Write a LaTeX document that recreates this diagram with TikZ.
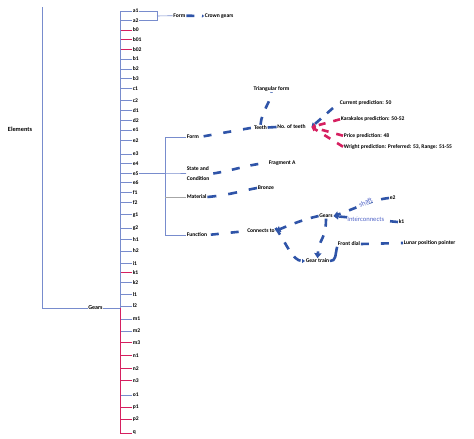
\documentclass[tikz,border=0pt]{standalone}
\usepackage{fontspec}
\setmainfont{Carlito}
\usetikzlibrary{arrows.meta,positioning}
\definecolor{lineblue}{RGB}{120,140,205}
\definecolor{linkblue}{RGB}{47,84,168}
\definecolor{linkpink}{RGB}{214,32,96}
\definecolor{textblue}{RGB}{80,100,200}
\newcommand{\labsize}{\fontsize{5.6}{9.6}\selectfont}
\newcommand{\dashw}{2.6pt}

\begin{document}
\begin{tikzpicture}[x=1pt,y=-1pt]
        %\draw[help lines] (0,0) grid (474,439);
        \tikzset{lab/.style = {font=\labsize\bfseries, inner sep=0.6pt},
                 trunk/.style = {draw=lineblue, line width=0.6pt},
                 link/.style = {draw=linkblue, line width=\dashw, dash pattern=on 8pt off 9pt},
                 pinklink/.style = {link, draw=linkpink},
                 edgelab/.style = {font=\fontsize{6.6}{7}\selectfont, text=textblue, fill=white, inner sep=0.5pt}}
        \useasboundingbox (0,0) rectangle (474,439);

        % root and the long list
        \node[lab, font=\fontsize{6.3}{7}\selectfont\bfseries] (elements) at (20,129) {Elements};
        \node[lab, font=\fontsize{6}{7}\selectfont\bfseries] (gears) at (95.5,308) {Gears};
        \coordinate (top) at (42,7);
        \coordinate (bend) at (42,308);
        \coordinate (jg) at (120,308);
        \draw[trunk] (top) -- (bend) -- (gears.west);
        \draw[trunk] (gears.east) -- (jg);
        \foreach \n/\y/\c in {a1/11/lineblue, a2/20.7/lineblue, b0/30/linkpink, b01/39.3/linkpink,
                b02/49.3/linkpink, b1/59/lineblue, b2/69/lineblue, b3/78.7/lineblue, c1/88.3/lineblue,
                c2/100.7/lineblue, d1/110.3/lineblue, d2/120.7/lineblue, e1/130/lineblue, e2/140.7/lineblue,
                e3/154/lineblue, e4/163.3/lineblue, e5/173.3/lineblue, e6/182.3/lineblue, f1/192.7/lineblue,
                f2/202.3/lineblue, g1/214.7/lineblue, g2/228.3/lineblue, h1/239.3/lineblue, h2/251/lineblue,
                i1/263.3/lineblue, k1/272.7/linkpink, k2/282.5/lineblue, l1/294.3/lineblue, l2/306/lineblue,
                m1/319/lineblue, m2/331/lineblue, m3/342.3/linkpink, n1/355.7/linkpink, n2/368.7/linkpink,
                n3/380.7/linkpink, o1/395/lineblue, p1/407.3/linkpink, p2/419.3/linkpink, q/433/linkpink}{
            \coordinate (t\n) at (120,\y);
            \node[lab, anchor=west] (\n) at (132,\y) {\n};
            \draw[trunk, draw=\c] (t\n) -- (\n.west);
        }
        \draw[trunk] (ta1) -- (jg);
        \draw[trunk, draw=linkpink] (jg) -- (tq);

        % a1 / a2
        \coordinate (ab1) at (157,11);
        \coordinate (ab2) at (157,20.7);
        \coordinate (abm) at (157,16);
        \draw[trunk] (a1.east) -- (ab1) -- (ab2) -- (a2.east);
        \node[lab] (forma) at (179.5,15.7) {Form};
        \node[lab, anchor=west] (crown) at (204,16) {Crown gears};
        \draw[trunk] (abm) -- (forma.west);
        \draw[link, -{Triangle[length=2pt,width=3pt]}] (forma.east) -- (crown.west);

        % e5
        \coordinate (eb) at (165,173.3);
        \coordinate (ebt) at (165,137);
        \coordinate (ebb) at (165,235);
        \draw[trunk] (e5.east) -- (eb);
        \draw[trunk] (ebt) -- (ebb);
        \node[lab, anchor=west] (form) at (186,137) {Form};
        \node[lab, anchor=west, align=left] (state) at (186,173.5) {State and\\Condition};
        \node[lab, anchor=west] (material) at (186,197) {Material};
        \node[lab, anchor=west] (function) at (186,235) {Function};
        \draw[trunk] (ebt) -- (form.west);
        \draw[trunk] (eb) -- (state.west);
        \draw[trunk, draw=gray!70] (165,197) -- (material.west);
        \draw[trunk] (ebb) -- (function.west);

        % form
        \node[lab] (teeth) at (260.5,127.5) {Teeth};
        \node[lab] (triangular) at (271.5,89) {Triangular form};
        \node[lab] (noteeth) at (291.5,127) {No. of teeth};
        \node[lab, anchor=west] (current) at (339,102.7) {Current prediction: 50};
        \node[lab, anchor=west] (karakalos) at (340,119.3) {Karakalos prediction: 50-52};
        \node[lab, anchor=west] (price) at (343,135.7) {Price prediction: 48};
        \node[lab, anchor=west] (wright) at (343,146.7) {Wright prediction: Preferred: 53, Range: 51-55};
        \draw[link, dash pattern=on 8pt off 12pt, dash phase=-4pt] (form.east) -- (teeth.west);
        \draw[link] (teeth.north) .. controls (262,110) and (270,104) .. (triangular.south);
        \draw[link, dash pattern=] (teeth.east) -- (noteeth.west);
        \draw[link, dash pattern=on 8pt off 8pt, dash phase=-8pt, -{Triangle[length=4pt,width=5pt]}] (current.west) -- ([xshift=5pt]noteeth.east);
        \foreach \p in {karakalos, price, wright}
            \draw[pinklink, dash pattern=on 7pt off 8pt, -{Triangle[length=4pt,width=5pt]}] (\p.west) -- ([xshift=5pt]noteeth.east);

        % state, material
        \node[lab, anchor=west] (fragment) at (268,163) {Fragment A};
        \node[lab, anchor=west] (bronze) at (257,188) {Bronze};
        \draw[link, dash pattern=on 8pt off 11pt] ([xshift=3pt]state.east) .. controls (235,170) and (250,164) .. (fragment.west);
        \draw[link, dash pattern=on 9pt off 12pt] (material.east) .. controls (230,195) and (245,190) .. (bronze.west);

        % function
        \node[lab] (connects) at (261,231) {Connects to};
        \node[lab] (gearsb) at (326,216) {Gears};
        \node[lab] (geartrain) at (317.5,261) {Gear train};
        \node[lab] (frontdial) at (349,244) {Front dial};
        \node[lab, anchor=west] (lunar) at (403,243) {Lunar position pointer};
        \node[lab, anchor=west] (e2b) at (389,198) {e2};
        \node[lab, anchor=west] (k1b) at (398,222) {k1};
        \draw[link, dash pattern=on 8pt off 12pt, dash phase=-3pt] (function.east) -- (connects.west);
        \draw[link, -{Triangle[length=5pt,width=6pt]}] (gearsb.west) .. controls (305,219) and (292,224) .. (connects.east);
        \draw[link, -{Triangle[length=3pt,width=4pt]}] ([yshift=3pt]connects.east) .. controls (286,242) and (292,261) .. (geartrain.west);
        \draw[link, -{Triangle[length=5pt,width=7pt]}] (gearsb.south) .. controls (326,240) and (319,238) .. (geartrain.north);
        \draw[link, dash pattern=] (geartrain.east) .. controls (336,261) and (335,256) .. (frontdial.south west);
        \draw[link, dash pattern=on 8pt off 12pt] (frontdial.east) -- (lunar.west);
        \draw[link, -{Triangle[length=5pt,width=6pt]}] (e2b.west) .. controls (370,200) and (352,210) .. node[edgelab, pos=0.42, yshift=1.5pt, rotate=28, font=\fontsize{7}{8}\selectfont, inner sep=0.2pt] (shaft) {shaft} (gearsb.east);
        \draw[link, -{Triangle[length=5pt,width=6pt]}] (k1b.west) -- node[edgelab, yshift=-0.5pt] (inter) {Interconnects} (gearsb.east);
\end{tikzpicture}
\end{document}
